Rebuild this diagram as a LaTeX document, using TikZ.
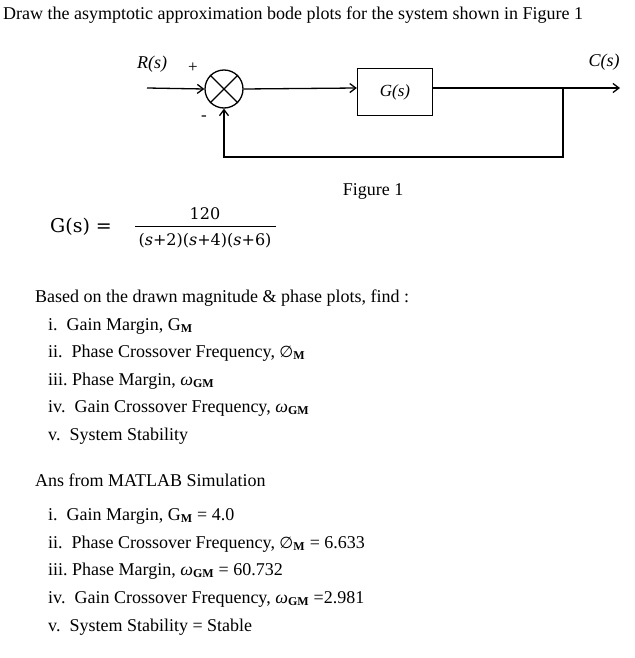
\documentclass[tikz,border=0pt]{standalone}
\usepackage{fontspec}
\setmainfont{Liberation Serif}
\newfontfamily\mathlike{DejaVu Serif}
\newfontfamily\symb{DejaVu Sans}
\usetikzlibrary{arrows.meta}
\begin{document}
\begin{tikzpicture}[x=1pt,y=-1pt,
  txt/.style={anchor=west,inner sep=0,font=\fontsize{18}{21}\selectfont},
  wire/.style={line width=1.3pt},
  arr/.style={wire,-{Straight Barb[length=6pt,width=9pt]}}]
\useasboundingbox (0,0) rectangle (634,658);
\node[txt] (title) at (3,15) {Draw the asymptotic approximation bode plots for the system shown in Figure 1};
% block diagram
\node[draw,circle,line width=1.3pt,minimum size=38pt,inner sep=0] (sum) at (224,89) {};
\draw[line width=1.3pt] (sum.north west)--(sum.south east) (sum.north east)--(sum.south west);
\node[draw,line width=1.3pt,minimum width=75pt,minimum height=47pt,inner sep=0] (G) at (395,92) {\fontsize{17}{20}\selectfont\itshape G(s)};
\coordinate (in) at (147,88);
\coordinate (out) at (620,88);
\coordinate (br) at (563,88);
\coordinate (fb) at (563,157);
\coordinate (fb2) at (224,157);
\draw[arr] (in) -- (sum.west);
\draw[arr] (sum.east) -- (G.west|-in);
\draw[arr] (G.east|-in) -- (out);
\draw[arr] (br) -- (fb) -- (fb2) -- (sum.south);
\node[inner sep=0,font=\fontsize{18}{21}\selectfont\itshape] (R) at (152,64) {R(s)};
\node[inner sep=0,font=\fontsize{17}{18}\selectfont] (plus) at (193,68) {+};
\node[inner sep=0,font=\fontsize{17}{18}\selectfont] (minus) at (204,118) {-};
\node[inner sep=0,font=\fontsize{18}{21}\selectfont\itshape] (C) at (604,62) {C(s)};
\node[inner sep=0,font=\fontsize{18}{21}\selectfont] (fig) at (373,191) {Figure 1};
% formula
\node[anchor=west,inner sep=0,font=\mathlike\fontsize{19}{22}\selectfont] (Gs) at (50,227) {G(s) =};
\node[inner sep=0,font=\mathlike\fontsize{16}{18}\selectfont] (num) at (205,214) {120};
\draw[line width=0.8pt] (135,226) -- (276,226);
\node[inner sep=0,font=\mathlike\fontsize{16}{18}\selectfont] (den) at (205,241) {(\textit{s}+2)(\textit{s}+4)(\textit{s}+6)};
% questions
\newcommand\sbs[1]{\textsubscript{\fontsize{12}{12}\selectfont\textbf{#1}}}
\newcommand\emptysym{{\symb\fontsize{16}{18}\selectfont ∅}}
\node[txt] (q0) at (35,298) {Based on the drawn magnitude \& phase plots, find :};
\node[txt] (q1) at (48,326) {i.\ \ Gain Margin, G\sbs{M}};
\node[txt] (q2) at (48,353) {ii.\ \ Phase Crossover Frequency, \emptysym\sbs{M}};
\node[txt] (q3) at (48,381) {iii.\ Phase Margin, \textit{ω}\sbs{GM}};
\node[txt] (q4) at (48,408) {iv.\ \ Gain Crossover Frequency, \textit{ω}\sbs{GM}};
\node[txt] (q5) at (48,436) {v.\ \ System Stability};
\node[txt] (a0) at (35,480) {Ans from MATLAB Simulation};
\node[txt] (a1) at (48,516) {i.\ \ Gain Margin, G\sbs{M} = 4.0};
\node[txt] (a2) at (48,544) {ii.\ \ Phase Crossover Frequency, \emptysym\sbs{M} = 6.633};
\node[txt] (a3) at (48,571) {iii.\ Phase Margin, \textit{ω}\sbs{GM} = 60.732};
\node[txt] (a4) at (48,599) {iv.\ \ Gain Crossover Frequency, \textit{ω}\sbs{GM} =2.981};
\node[txt] (a5) at (48,627) {v.\ \ System Stability = Stable};
\end{tikzpicture}
\end{document}
